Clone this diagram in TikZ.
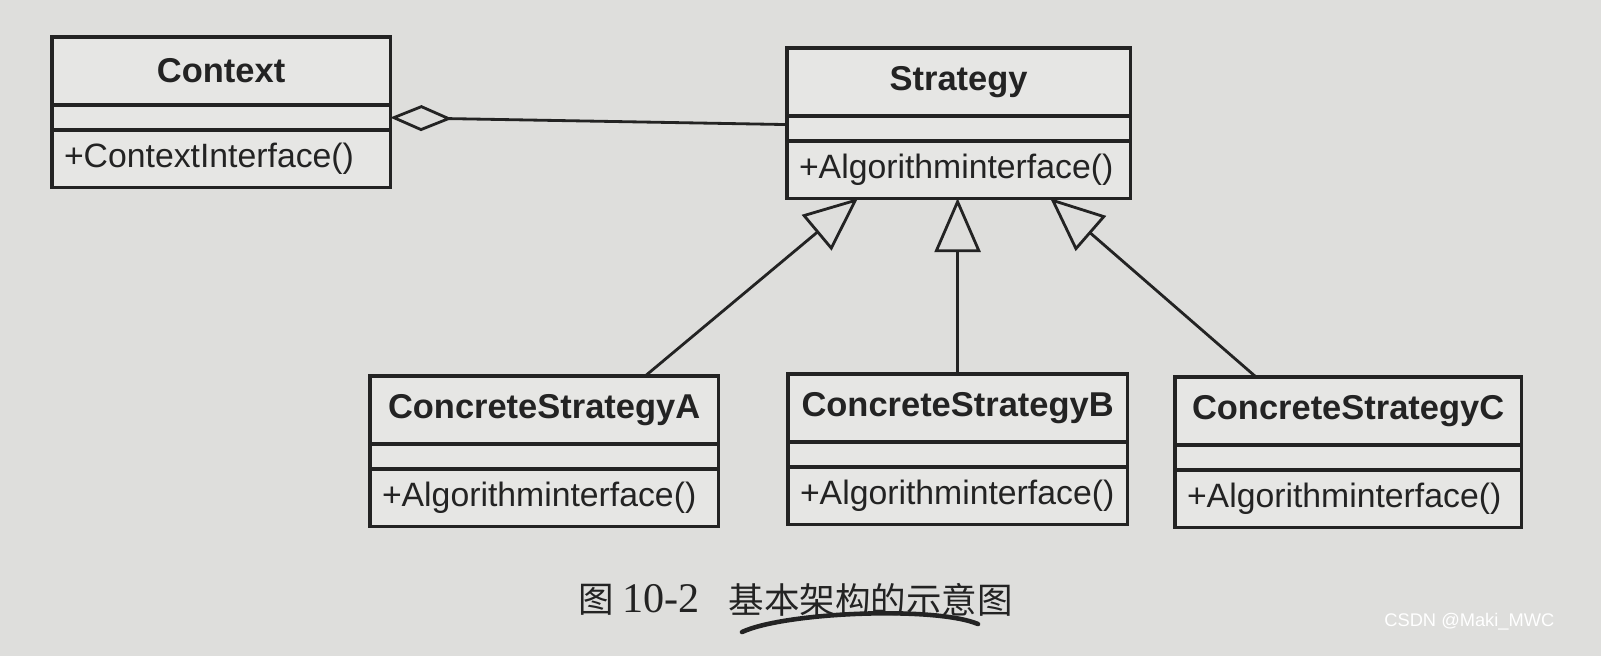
\documentclass[tikz,border=0pt]{standalone}
\usepackage{fontspec}
\setmainfont{Liberation Sans}
\newfontfamily\cjk{Noto Sans CJK SC}
\newfontfamily\capserif{Liberation Serif}
\usetikzlibrary{arrows.meta,positioning}
\definecolor{paper}{RGB}{222,222,220}
\definecolor{boxfill}{RGB}{230,230,228}
\definecolor{ink}{RGB}{35,35,35}

\tikzset{
  classpart/.style={draw=ink, line width=0.9pt, fill=boxfill, outer sep=0pt, inner ysep=0pt},
  ctitle/.style={classpart, inner xsep=0pt, minimum height=0.68cm, font=\fontsize{9.8}{12}\selectfont\bfseries, text=ink},
  cattr/.style={classpart, inner xsep=0pt, minimum height=0.25cm},
  cop/.style={classpart, minimum height=0.57cm, align=left, font=\fontsize{9.6}{12}\selectfont, text=ink},
  aggr/.style={draw=ink, line width=0.8pt, -{Diamond[open,length=6.2mm,width=2.6mm]}},
  inherit/.style={draw=ink, line width=0.8pt, -{Triangle[open,length=5.4mm,width=4.6mm]}},
}

% class box: name, north west corner, width, title, operation
\newcommand{\classbox}[5]{%
  \pgfmathsetlengthmacro{\boxtw}{#3-0.24cm}%
  \node[ctitle, minimum width=#3, anchor=north west] (#1) at (#2) {#4};
  \node[cattr, minimum width=#3, below=0pt of #1] (#1-a) {};
  \node[cop, text width=\boxtw, inner xsep=0.12cm, below=0pt of #1-a] (#1-o) {#5};
}

\begin{document}
\begin{tikzpicture}[x=0.01cm,y=-0.01cm]
\fill [paper] (0,0) rectangle (1601,656);

\classbox{ctx}{52,37}{3.38cm}{Context}{+ContextInterface()}
\classbox{strat}{787,48}{3.43cm}{Strategy}{+Algorithminterface()}
\classbox{ca}{370,376}{3.48cm}{ConcreteStrategyA}{+Algorithminterface()}
\classbox{cb}{788,374}{3.39cm}{ConcreteStrategyB}{+Algorithminterface()}
\classbox{cc}{1175,377}{3.46cm}{ConcreteStrategyC}{+Algorithminterface()}

\draw [aggr] ([yshift=0.04cm]strat-a.west) -- (ctx-a.east);
\draw [inherit] ([xshift=-0.73cm]ca.north east) -- ([xshift=0.71cm]strat-o.south west);
\draw [inherit] (cb.north) -- (cb.north |- strat-o.south);
\draw [inherit] ([xshift=0.81cm]cc.north west) -- ([xshift=-0.80cm]strat-o.south east);

% caption
\node [anchor=west, inner sep=0pt, text=ink, font=\fontsize{10.1}{12}\selectfont] (fignum) at (578,600) {\cjk 图\ \capserif\fontsize{12}{14}\selectfont 10-2};
\node [anchor=west, inner sep=0pt, text=ink, font=\fontsize{10.1}{12}\selectfont] (figtitle) at (728,600) {\cjk 基本架构的示意图};
\draw [ink, line width=1.3pt, line cap=round] (742,632) .. controls (785,612) and (935,606) .. (978,624);

\node [anchor=east, inner sep=0pt, text=white, font=\fontsize{5.2}{7}\selectfont] (mark) at (1555,622) {CSDN @Maki\_MWC};
\end{tikzpicture}
\end{document}
